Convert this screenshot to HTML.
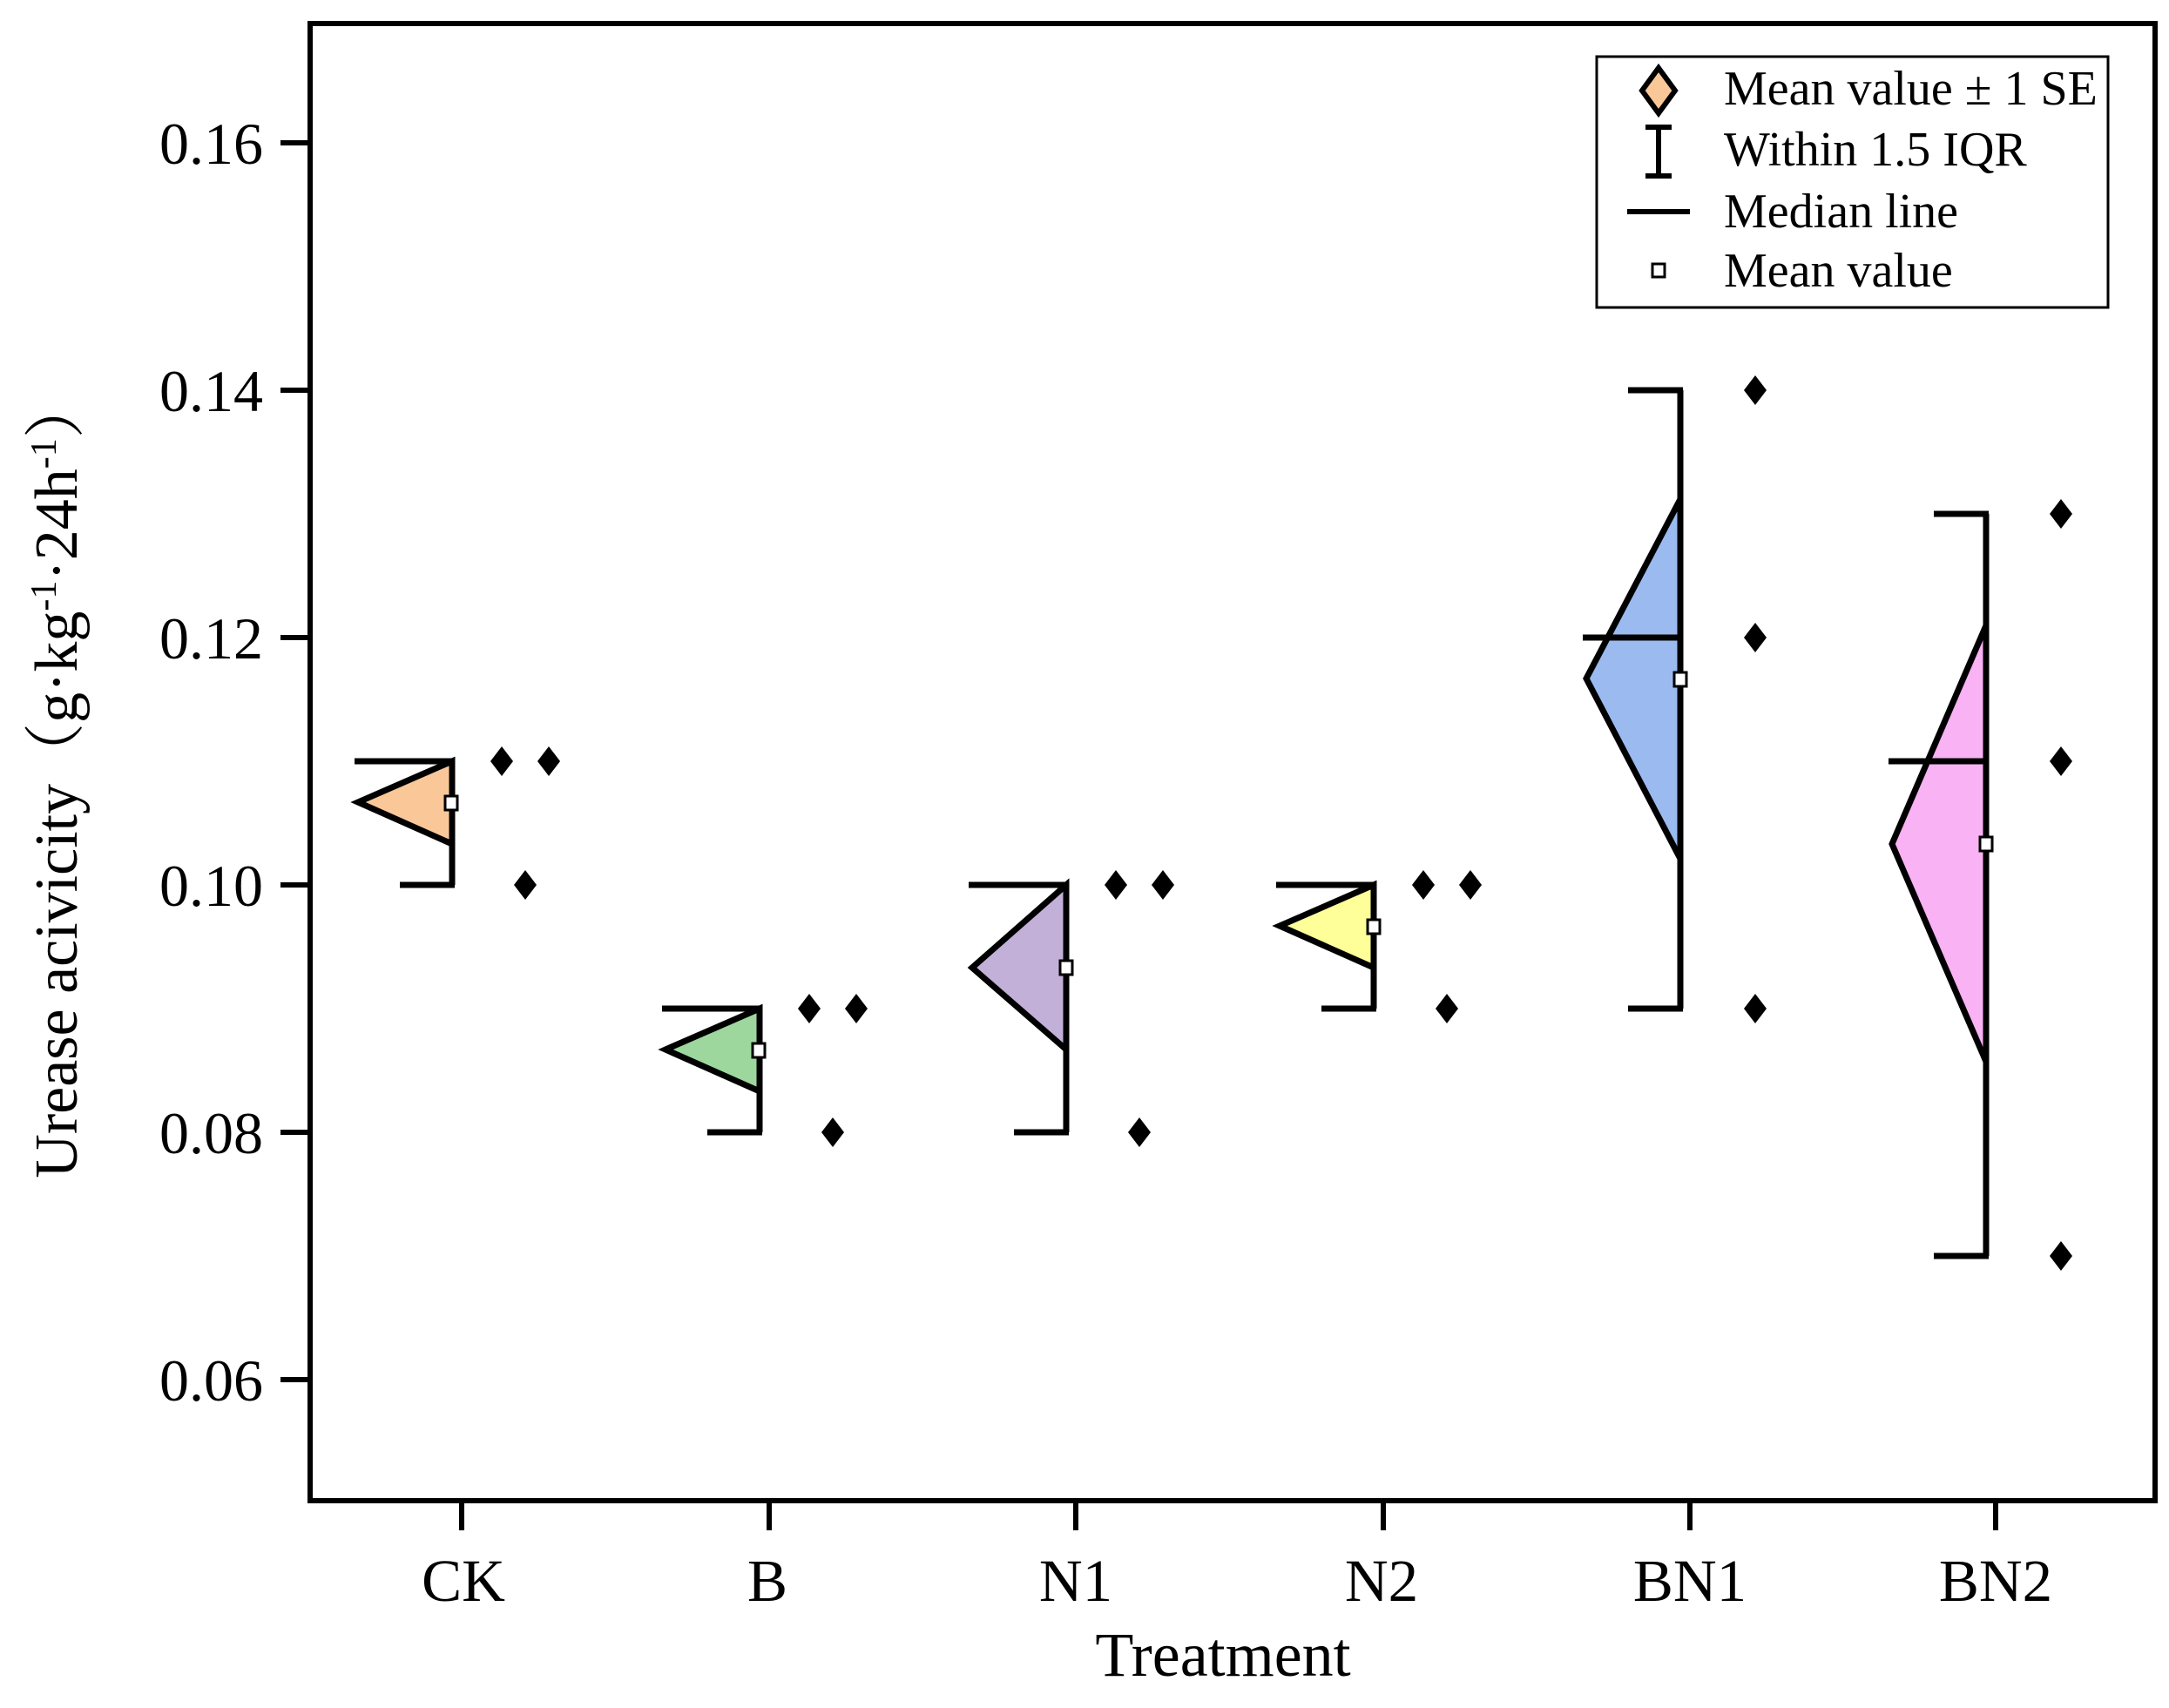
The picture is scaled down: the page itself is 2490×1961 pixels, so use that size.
<!DOCTYPE html>
<html><head><meta charset="utf-8"><style>body{margin:0;background:#fff}</style></head><body>
<svg width="2490" height="1956" xmlns="http://www.w3.org/2000/svg" font-family="Liberation Serif, serif">
<rect x="0" y="0" width="2490" height="1956" fill="#fff"/>
<rect x="356" y="27" width="2118" height="1696" fill="none" stroke="#000" stroke-width="6"/>
<g stroke="#000" stroke-width="6">
<line x1="322" y1="164" x2="356" y2="164"/><line x1="322" y1="448" x2="356" y2="448"/><line x1="322" y1="732" x2="356" y2="732"/><line x1="322" y1="1016" x2="356" y2="1016"/><line x1="322" y1="1300" x2="356" y2="1300"/><line x1="322" y1="1584" x2="356" y2="1584"/>
<line x1="530" y1="1723" x2="530" y2="1757"/><line x1="883" y1="1723" x2="883" y2="1757"/><line x1="1235" y1="1723" x2="1235" y2="1757"/><line x1="1588" y1="1723" x2="1588" y2="1757"/><line x1="1940" y1="1723" x2="1940" y2="1757"/><line x1="2291" y1="1723" x2="2291" y2="1757"/>
</g>
<g font-size="68" text-anchor="end" fill="#000">
<text x="302" y="188">0.16</text><text x="302" y="472">0.14</text><text x="302" y="756">0.12</text><text x="302" y="1040">0.10</text><text x="302" y="1324">0.08</text><text x="302" y="1608">0.06</text>
</g>
<g font-size="69" text-anchor="middle" fill="#000">
<text x="532" y="1838">CK</text><text x="881" y="1838">B</text><text x="1235" y="1838">N1</text><text x="1586" y="1838">N2</text><text x="1940" y="1838">BN1</text><text x="2291" y="1838">BN2</text>
<text x="1404" y="1924" font-size="72">Treatment</text>
</g>
<text transform="translate(88,893) rotate(-90)" font-size="70" text-anchor="middle" font-family="Liberation Serif, 'Noto Serif CJK SC', serif">Urease acivicity（g·kg<tspan dy="-24" font-size="42">-1</tspan><tspan dy="24">·24h</tspan><tspan dy="-24" font-size="42">-1</tspan><tspan dy="24">）</tspan></text>
<g stroke="#000" stroke-width="7" stroke-linejoin="miter">
<polygon points="519,874 411,921 519,969" fill="#FAC898"/>
<line x1="519" y1="874" x2="519" y2="1016"/><line x1="459" y1="1016" x2="522" y2="1016"/><line x1="407" y1="874" x2="522" y2="874"/>
<polygon points="872,1158 764,1205 872,1253" fill="#9ED79E"/>
<line x1="872" y1="1158" x2="872" y2="1300"/><line x1="812" y1="1300" x2="875" y2="1300"/><line x1="760" y1="1158" x2="875" y2="1158"/>
<polygon points="1224,1016 1116,1111 1224,1205" fill="#C2B0D8"/>
<line x1="1224" y1="1016" x2="1224" y2="1300"/><line x1="1164" y1="1300" x2="1227" y2="1300"/><line x1="1112" y1="1016" x2="1227" y2="1016"/>
<polygon points="1577,1016 1469,1063 1577,1111" fill="#FFFF99"/>
<line x1="1577" y1="1016" x2="1577" y2="1158"/><line x1="1517" y1="1158" x2="1580" y2="1158"/><line x1="1465" y1="1016" x2="1580" y2="1016"/>
<polygon points="1929,573 1821,779 1929,986" fill="#9BBBF0"/>
<line x1="1929" y1="448" x2="1929" y2="1158"/><line x1="1869" y1="448" x2="1932" y2="448"/><line x1="1869" y1="1158" x2="1932" y2="1158"/><line x1="1817" y1="732" x2="1932" y2="732"/>
<polygon points="2280,718 2172,969 2280,1219" fill="#F9B2F4"/>
<line x1="2280" y1="590" x2="2280" y2="1442"/><line x1="2220" y1="590" x2="2283" y2="590"/><line x1="2220" y1="1442" x2="2283" y2="1442"/><line x1="2168" y1="874" x2="2283" y2="874"/>
</g>
<g fill="#fff" stroke="#000" stroke-width="3">
<rect x="511" y="914" width="14" height="16"/><rect x="864" y="1198" width="14" height="16"/><rect x="1217" y="1103" width="14" height="16"/><rect x="1570" y="1056" width="14" height="16"/><rect x="1922" y="772" width="14" height="16"/><rect x="2273" y="961" width="14" height="16"/>
</g>
<defs><path id="d" d="M0,-17 L13,0 L0,17 L-13,0 Z" fill="#000"/></defs>
<use href="#d" x="576" y="874"/><use href="#d" x="630" y="874"/><use href="#d" x="603" y="1016"/>
<use href="#d" x="929" y="1158"/><use href="#d" x="983" y="1158"/><use href="#d" x="956" y="1300"/>
<use href="#d" x="1281" y="1016"/><use href="#d" x="1335" y="1016"/><use href="#d" x="1308" y="1300"/>
<use href="#d" x="1634" y="1016"/><use href="#d" x="1688" y="1016"/><use href="#d" x="1661" y="1158"/>
<use href="#d" x="2015" y="448"/><use href="#d" x="2015" y="732"/><use href="#d" x="2015" y="1158"/>
<use href="#d" x="2366" y="590"/><use href="#d" x="2366" y="874"/><use href="#d" x="2366" y="1442"/>
<rect x="1833" y="65" width="587" height="288" fill="#fff" stroke="#000" stroke-width="3"/>
<polygon points="1904,78 1923,104 1904,130 1885,104" fill="#FAC898" stroke="#000" stroke-width="6"/>
<g stroke="#000" stroke-width="6">
<line x1="1904" y1="146" x2="1904" y2="202"/><line x1="1889" y1="146" x2="1919" y2="146"/><line x1="1889" y1="202" x2="1919" y2="202"/>
<line x1="1868" y1="243" x2="1940" y2="243"/>
</g>
<rect x="1897" y="303" width="14" height="15" fill="#fff" stroke="#000" stroke-width="3"/>
<g font-size="56" fill="#000">
<text x="1979" y="120">Mean value ± 1 SE</text><text x="1979" y="190">Within 1.5 IQR</text><text x="1979" y="261">Median line</text><text x="1979" y="329">Mean value</text>
</g>
</svg>
</body></html>
